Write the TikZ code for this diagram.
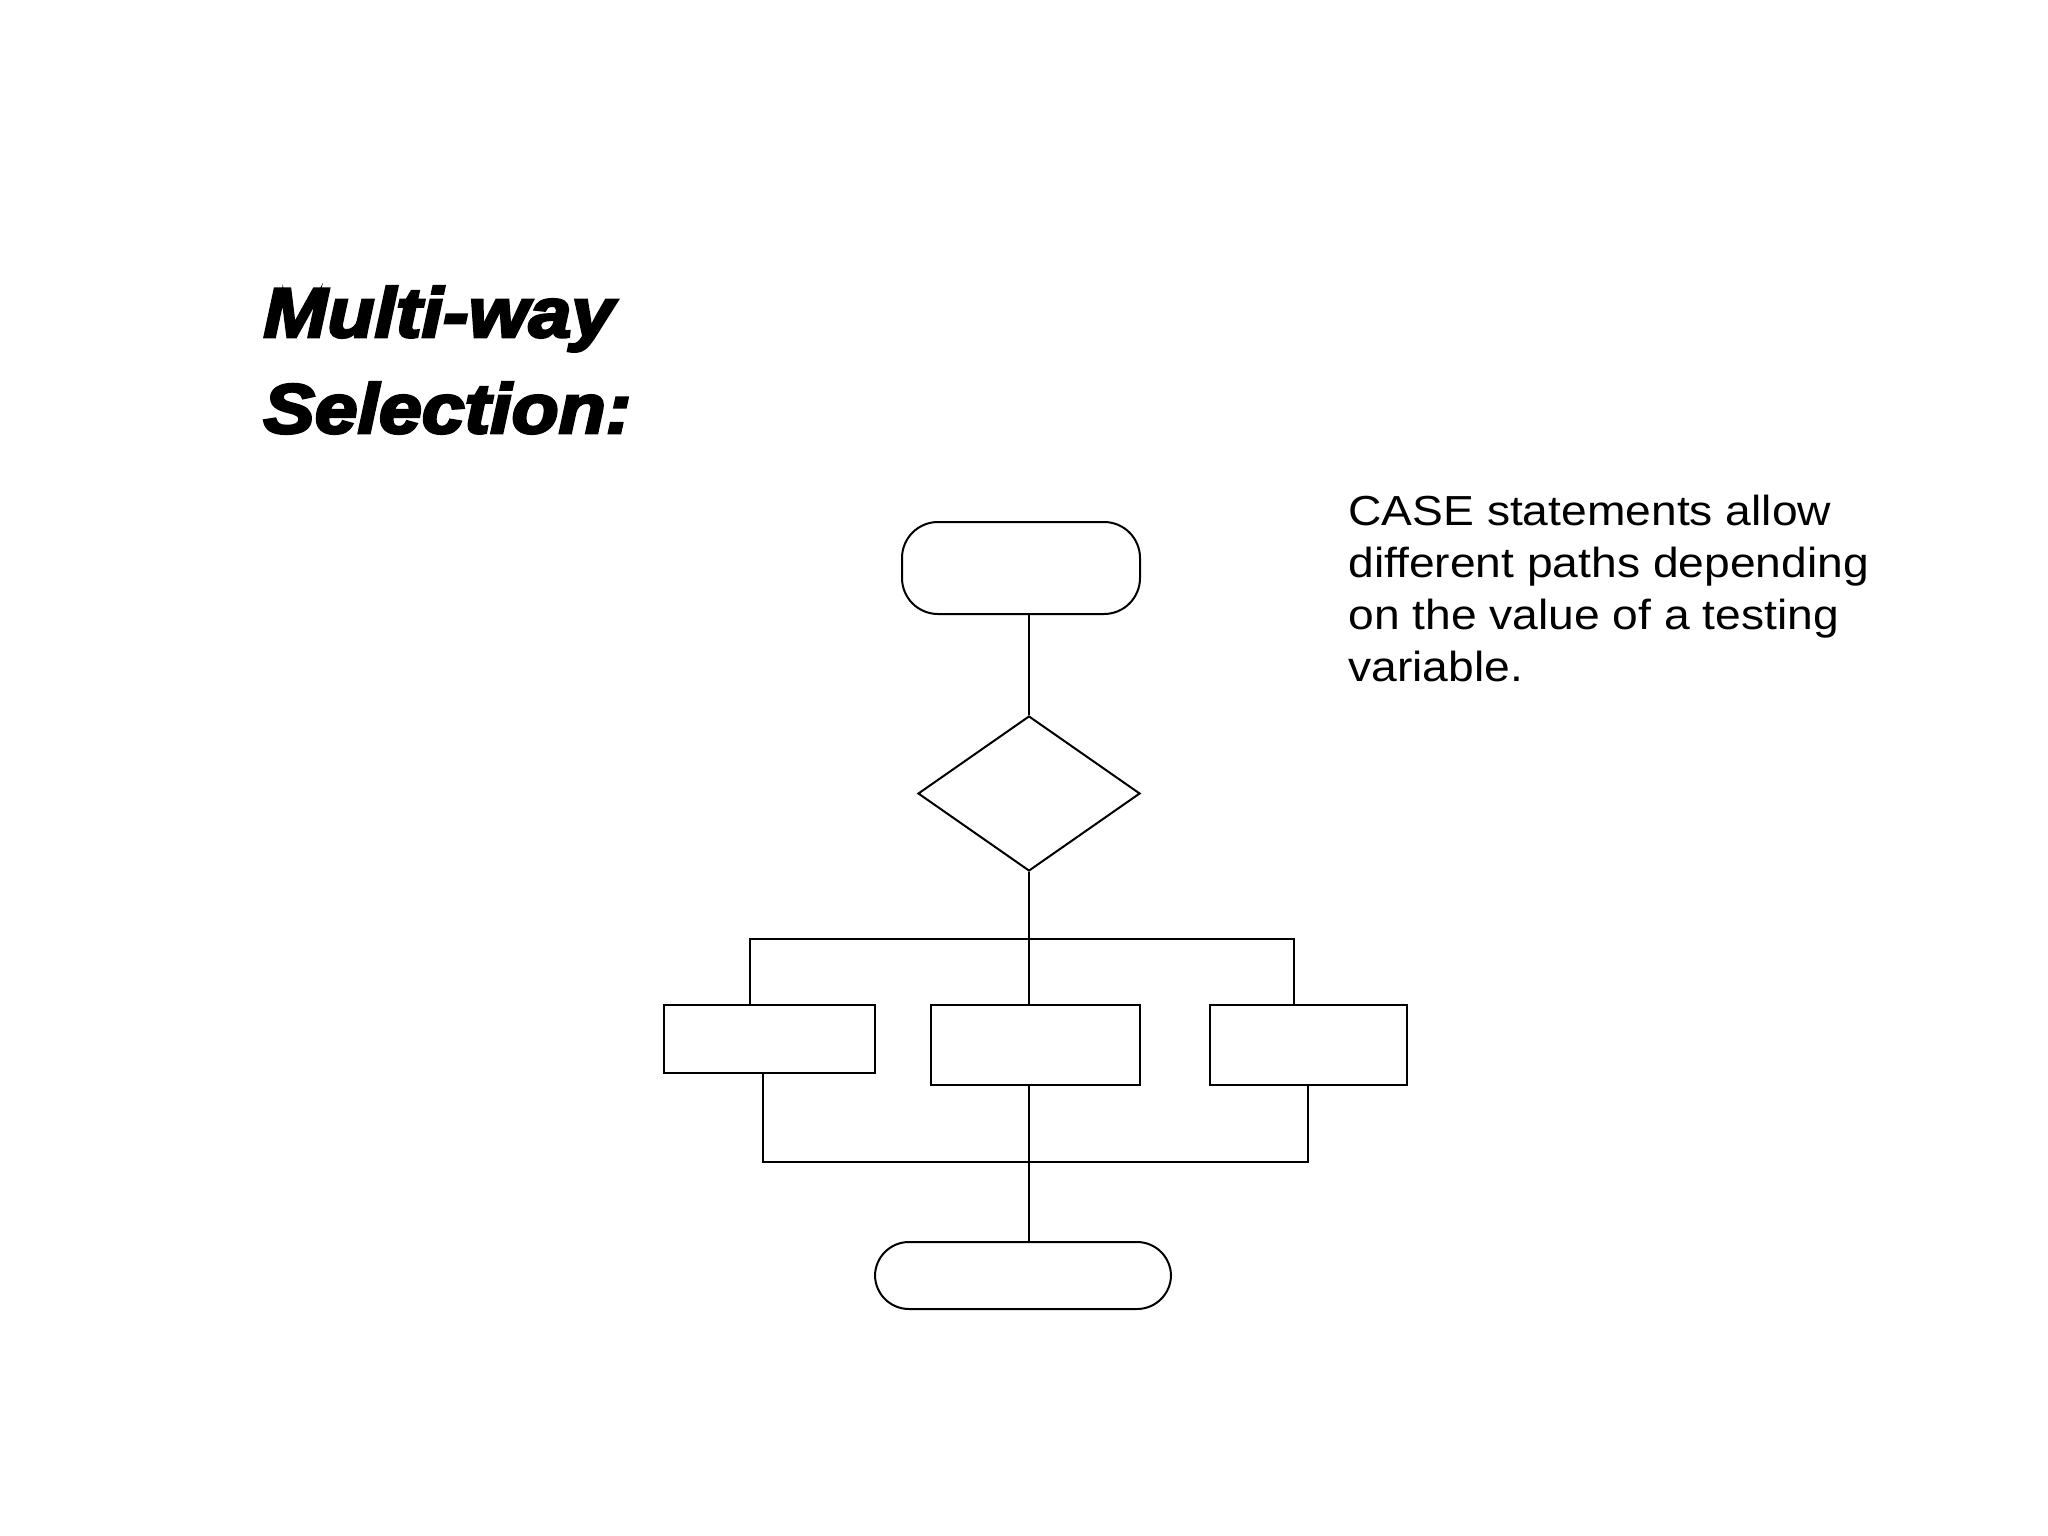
\documentclass[tikz,border=0pt]{standalone}
\usepackage{fontspec}
\usetikzlibrary{shapes.geometric}
\newfontfamily\bodyfont[FakeStretch=1.1]{Liberation Sans}
\newfontfamily\titlefont[FakeStretch=1.1,BoldItalicFeatures={FakeBold=4}]{Liberation Sans}
\begin{document}
\begin{tikzpicture}[x=0.5pt,y=-0.5pt,
  flow/.style={draw=black, line width=1pt},
  termbox/.style={draw=black, line width=1pt, inner sep=0pt},
  decision/.style={draw=black, line width=1pt, diamond, inner sep=0pt},
  procbox/.style={draw=black, line width=1pt, rectangle, inner sep=0pt},
  titletext/.style={anchor=base west, inner sep=0pt, align=left, font=\titlefont\bfseries\itshape\fontsize{35pt}{48pt}\selectfont},
  desctext/.style={anchor=base west, inner sep=0pt, align=left, font=\bodyfont\fontsize{21pt}{26pt}\selectfont}]
\useasboundingbox (0,0) rectangle (2048,1535);
\fill[white] (0,0) rectangle (2048,1535);

% base anchor of a multi-line node = baseline of its last line
\node[titletext] (title) at (263,433) {Multi-way\\Selection:};
\node[desctext] (desc) at (1348,681) {CASE statements allow\\different paths depending\\on the value of a testing\\variable.};

\node[termbox, rounded corners=18pt, minimum width=119pt, minimum height=46pt] (start) at (1021,568) {};
\node[decision, minimum width=111pt, minimum height=77.5pt] (dec) at (1029,793.5) {};
\node[procbox, minimum width=105.5pt, minimum height=34pt] (boxL) at (769.5,1039) {};
\node[procbox, minimum width=104.5pt, minimum height=40pt] (boxM) at (1035.5,1045) {};
\node[procbox, minimum width=98.5pt, minimum height=40pt] (boxR) at (1308.5,1045) {};
\node[termbox, rounded corners=17pt, minimum width=148pt, minimum height=33.5pt] (stop) at (1023,1275.5) {};

\coordinate (busTL) at (750,939);
\coordinate (busTR) at (1294,939);
\coordinate (busBL) at (763,1162);
\coordinate (busBR) at (1308,1162);

\draw[flow] (dec.north) -- (dec.north |- start.south);
\draw[flow] (dec.south) -- (dec.south |- boxM.north);
\draw[flow] (busTL |- boxL.north) -- (busTL) -- (busTR) -- (busTR |- boxR.north);
\draw[flow] (busBL |- boxL.south) -- (busBL) -- (busBR) -- (busBR |- boxR.south);
\draw[flow] (dec.south |- boxM.south) -- (dec.south |- stop.north);
\end{tikzpicture}
\end{document}
